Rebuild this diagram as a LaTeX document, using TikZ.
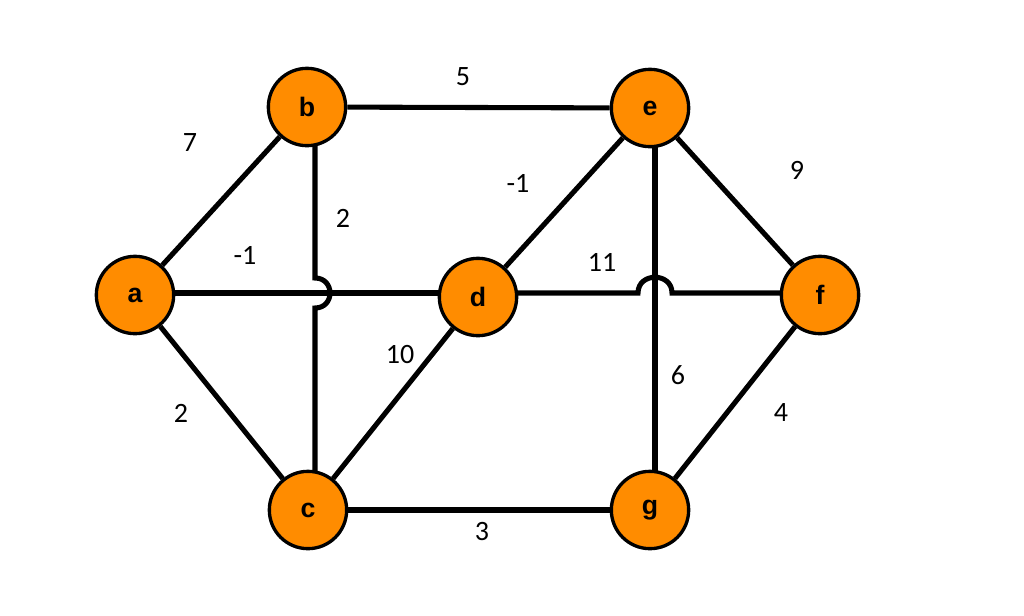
\documentclass[tikz,border=0pt]{standalone}
\usepackage{fontspec}
\setmainfont{Carlito}
\newfontfamily\nodefont{Liberation Sans}
\pgfdeclarelayer{bg}
\pgfsetlayers{bg,main}
\begin{document}
\begin{tikzpicture}[x=0.75pt,y=-0.75pt,
  vert/.style={circle,draw=black,line width=2.5pt,fill={rgb,255:red,255;green,140;blue,0},minimum size=58pt,inner sep=0pt,font=\nodefont\bfseries\fontsize{20}{20}\selectfont},
  edge/.style={line width=3.8pt,black},
  wt/.style={font=\fontsize{21}{21}\selectfont}]
\useasboundingbox (0,0) rectangle (1024,615);
\node[vert] (a) at (135,295) {a};
\node[vert] (b) at (307,107) {b};
\node[vert] (e) at (650,108) {e};
\node[vert] (d) at (478,297) {d};
\node[vert] (f) at (820,295) {f};
\node[vert] (c) at (308,510) {c};
\node[vert] (g) at (650,510) {g};
\coordinate (bt) at (315,140);
\coordinate (b1) at (315,278);
\coordinate (b2) at (315,308);
\coordinate (cb) at (315,480);
\coordinate (et) at (655,140);
\coordinate (gb) at (655,480);
\coordinate (h1) at (638,293);
\coordinate (h2) at (672,293);
\coordinate (al) at (150,293);
\coordinate (dr) at (478,293);
\coordinate (fl) at (810,293);
\begin{pgfonlayer}{bg}
\draw[edge] (bt) -- (b1) .. controls (335,278) and (335,308) .. (b2) -- (cb);
\draw[edge] (al) -- (dr);
\draw[edge] (dr) -- (h1) .. controls (638,272) and (672,272) .. (h2) -- (fl);
\draw[edge] (et) -- (gb);
\draw[edge] (a) -- (b);
\draw[edge] (a) -- (c);
\draw[edge] (b) -- (e);
\draw[edge] (e) -- (d);
\draw[edge] (e) -- (f);
\draw[edge] (d) -- (c);
\draw[edge] (c) -- (g);
\draw[edge] (g) -- (f);
\end{pgfonlayer}
\node[wt] (w1) at (190,143) {7};
\node[wt] (w2) at (463,77) {5};
\node[wt] (w3) at (343,218) {2};
\node[wt] (w4) at (245,255) {-1};
\node[wt] (w5) at (518,183) {-1};
\node[wt] (w6) at (797,170) {9};
\node[wt] (w7) at (602,262) {11};
\node[wt] (w8) at (400,355) {10};
\node[wt] (w9) at (678,375) {6};
\node[wt] (w10) at (181,413) {2};
\node[wt] (w11) at (781,413) {4};
\node[wt] (w12) at (482,531) {3};
\end{tikzpicture}
\end{document}
